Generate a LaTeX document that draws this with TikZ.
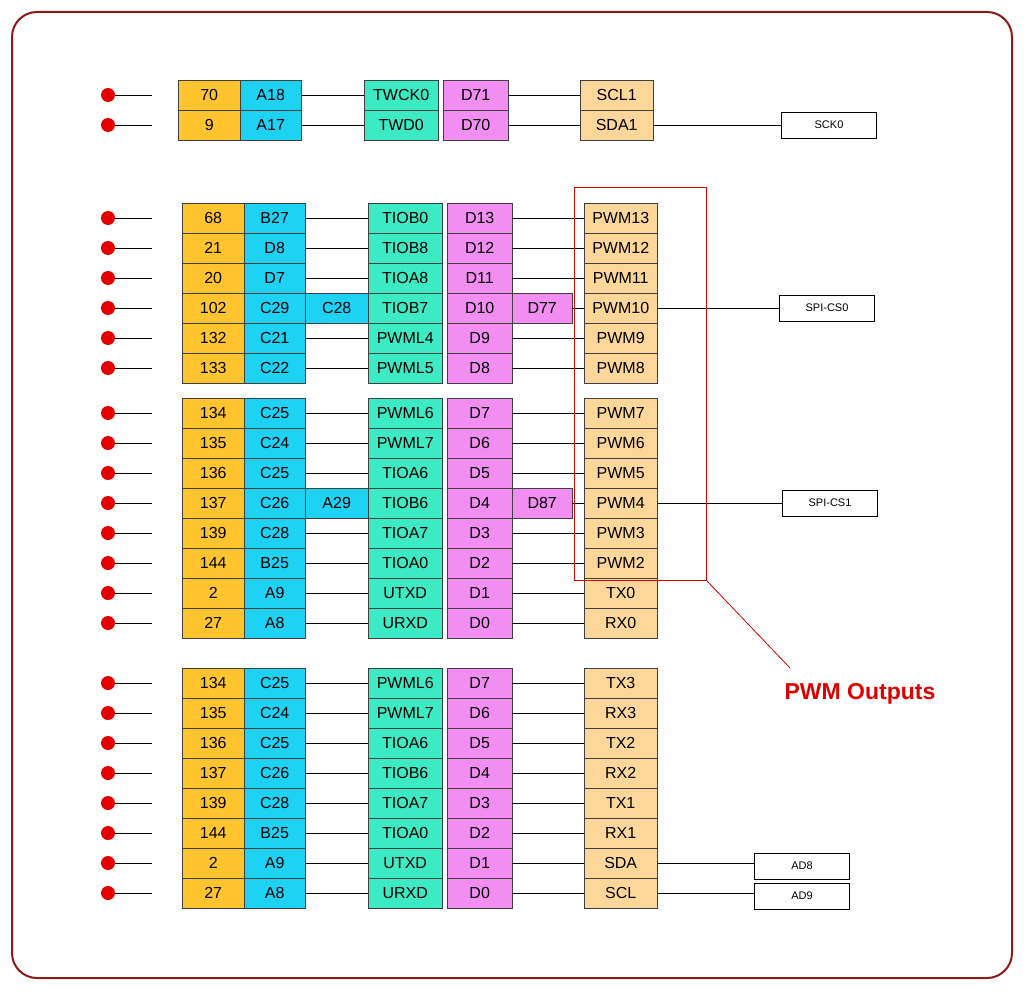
\documentclass[tikz,border=0pt]{standalone}
\usepackage{fontspec}
\setmainfont{Liberation Sans}
\definecolor{orgc}{HTML}{FFC42E}
\definecolor{cyac}{HTML}{1ED2F4}
\definecolor{teac}{HTML}{3CEBC4}
\definecolor{pinc}{HTML}{F28EF2}
\definecolor{loc}{HTML}{FDD699}
\definecolor{frame}{HTML}{8B1A1A}
\tikzset{
 box/.style={draw=black!75, minimum height=30pt, inner sep=0pt, anchor=north west, font=\fontsize{16}{18}\selectfont},
 orb/.style={box, fill=orgc, minimum width=62pt},
 cyb/.style={box, fill=cyac, minimum width=61pt},
 teb/.style={box, fill=teac, minimum width=74pt},
 pib/.style={box, fill=pinc, minimum width=65pt},
 lob/.style={box, fill=loc, minimum width=73pt},
 side/.style={draw=black, fill=white, minimum width=95pt, minimum height=26pt, inner sep=0pt, font=\fontsize{11}{13}\selectfont},
 dot/.style={circle, fill=red!90!black, minimum size=14pt, inner sep=0pt},
 wire/.style={draw=black, line width=0.8pt}
}
\newcommand\prow[8]{%
 \node[dot] (#1dot) at (108,#2+15) {};
 \coordinate (#1end) at (152,#2+15);
 \node[orb] (#1a) at (182+#3,#2) {#4};
 \node[cyb] (#1b) at (244+#3,#2) {#5};
 \node[teb] (#1c) at (368+#3,#2) {#6};
 \node[pib] (#1d) at (447+#3,#2) {#7};
 \node[lob] (#1e) at (584+#3,#2) {#8};
 \draw[wire] (#1dot) -- (#1end);
 \draw[wire] (#1b) -- (#1c);
 \draw[wire] (#1d) -- (#1e);
}
\begin{document}
\begin{tikzpicture}[x=1pt,y=-1pt]
\useasboundingbox (0,0) rectangle (1024,992);
\draw[frame, line width=2pt, rounded corners=25pt] (12,12) rectangle (1012,978);
% group 1
\prow{ga}{80}{-4}{70}{A18}{TWCK0}{D71}{SCL1}
\prow{gb}{110}{-4}{9}{A17}{TWD0}{D70}{SDA1}
% group 2
\prow{ra}{203}{0}{68}{B27}{TIOB0}{D13}{PWM13}
\prow{rb}{233}{0}{21}{D8}{TIOB8}{D12}{PWM12}
\prow{rc}{263}{0}{20}{D7}{TIOA8}{D11}{PWM11}
\prow{rd}{293}{0}{102}{C29}{TIOB7}{D10}{PWM10}
\prow{re}{323}{0}{132}{C21}{PWML4}{D9}{PWM9}
\prow{rf}{353}{0}{133}{C22}{PWML5}{D8}{PWM8}
\node[cyb, minimum width=63pt] (rdx) at (305,293) {C28};
\node[pib, minimum width=60pt] (rdy) at (512,293) {D77};
\draw[wire] (rdy) -- (rde);
% group 3
\prow{sa}{398}{0}{134}{C25}{PWML6}{D7}{PWM7}
\prow{sb}{428}{0}{135}{C24}{PWML7}{D6}{PWM6}
\prow{sc}{458}{0}{136}{C25}{TIOA6}{D5}{PWM5}
\prow{sd}{488}{0}{137}{C26}{TIOB6}{D4}{PWM4}
\prow{se}{518}{0}{139}{C28}{TIOA7}{D3}{PWM3}
\prow{sf}{548}{0}{144}{B25}{TIOA0}{D2}{PWM2}
\prow{sg}{578}{0}{2}{A9}{UTXD}{D1}{TX0}
\prow{sh}{608}{0}{27}{A8}{URXD}{D0}{RX0}
\node[cyb, minimum width=63pt] (sdx) at (305,488) {A29};
\node[pib, minimum width=60pt] (sdy) at (512,488) {D87};
\draw[wire] (sdy) -- (sde);
% group 4
\prow{ta}{668}{0}{134}{C25}{PWML6}{D7}{TX3}
\prow{tb}{698}{0}{135}{C24}{PWML7}{D6}{RX3}
\prow{tc}{728}{0}{136}{C25}{TIOA6}{D5}{TX2}
\prow{td}{758}{0}{137}{C26}{TIOB6}{D4}{RX2}
\prow{te}{788}{0}{139}{C28}{TIOA7}{D3}{TX1}
\prow{tf}{818}{0}{144}{B25}{TIOA0}{D2}{RX1}
\prow{tg}{848}{0}{2}{A9}{UTXD}{D1}{SDA}
\prow{th}{878}{0}{27}{A8}{URXD}{D0}{SCL}
% side boxes
\node[side] (sck) at (829,125) {SCK0};
\node[side] (cs0) at (827,308) {SPI-CS0};
\node[side] (cs1) at (830,503) {SPI-CS1};
\node[side] (ad8) at (802,866) {AD8};
\node[side] (ad9) at (802,896) {AD9};
\draw[wire] (gbe.east) -- (gbe.east -| sck.west);
\draw[wire] (rde.east) -- (rde.east -| cs0.west);
\draw[wire] (sde.east) -- (sde.east -| cs1.west);
\draw[wire] (tge.east) -- (tge.east -| ad8.west);
\draw[wire] (the.east) -- (the.east -| ad9.west);
% PWM highlight
\node[draw=red!85!black, line width=0.8pt, minimum width=132pt, minimum height=393pt, inner sep=0pt, anchor=north west] (hl) at (574,187) {};
\node[text=red!85!black, font=\bfseries\fontsize{23}{27}\selectfont] (lbl) at (860,694) {PWM Outputs};
\draw[red!85!black, line width=0.8pt] (hl.south east) -- (790,668);
\end{tikzpicture}
\end{document}
